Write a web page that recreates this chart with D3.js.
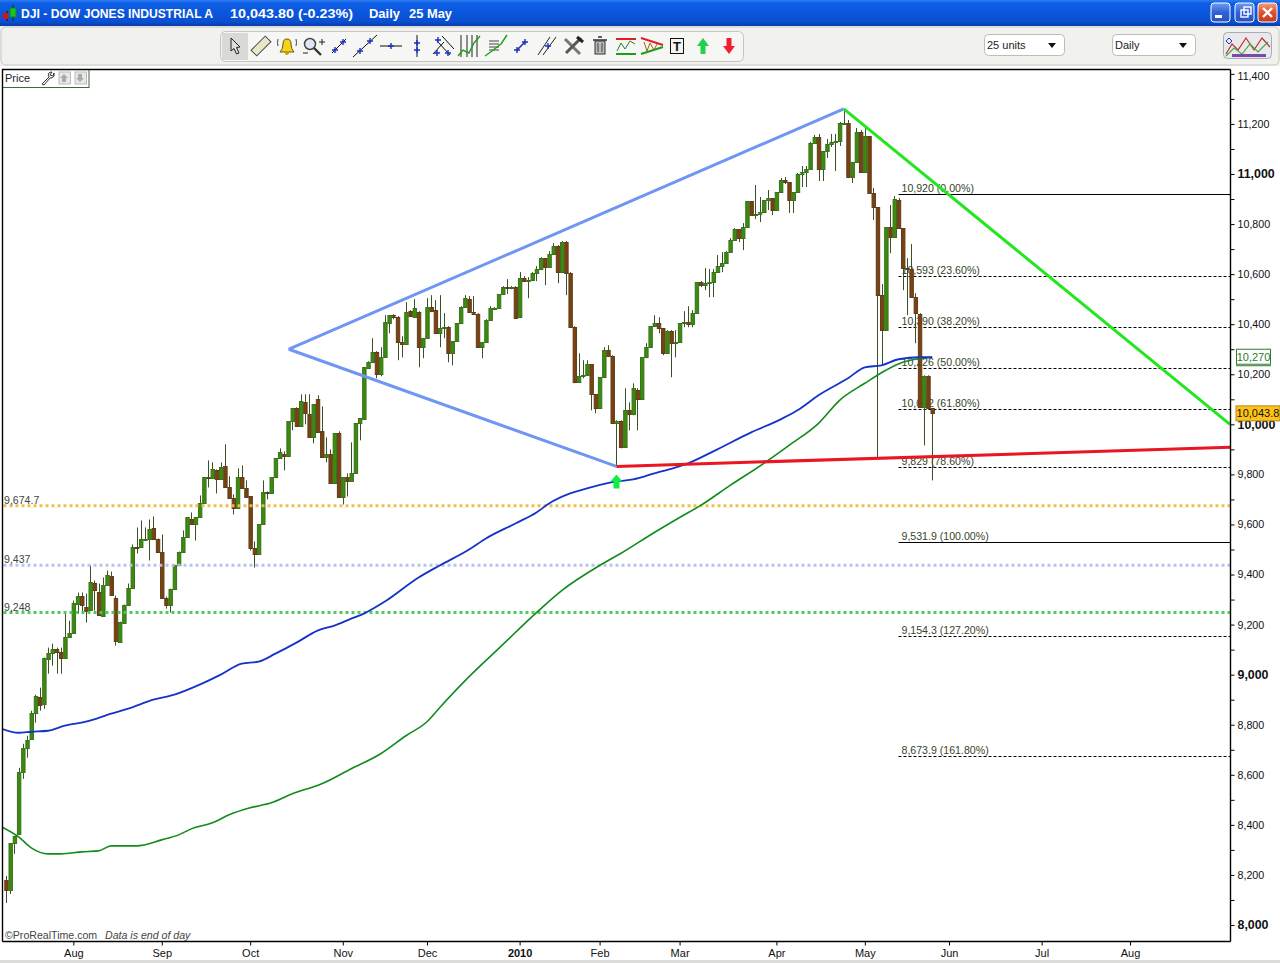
<!DOCTYPE html>
<html>
<head>
<meta charset="utf-8">
<script src="https://cdn.jsdelivr.net/npm/d3@7/dist/d3.min.js"></script>
<style>
html,body{margin:0;padding:0;background:#fff;overflow:hidden}
svg{display:block}
text{font-family:"Liberation Sans",Arial,sans-serif}
</style>
</head>
<body>
<div id="chart"></div>
<script>
// ---- DATA ----
const opens=[
8180,8140,8328,8364,8612,8708,8744,8848,8912,8884,
9064,9088,9104,9092,9068,9152,9168,9284,9316,9272,
9260,9368,9332,9236,9360,9396,9308,9132,9208,9280,
9348,9508,9508,9540,9540,9584,9540,9492,9308,9280,
9344,9440,9492,9548,9620,9600,9628,9684,9788,9784,
9816,9780,9832,9748,9704,9664,9788,9744,9712,9504,
9484,9600,9728,9724,9788,9864,9880,9872,10012,10064,
9992,10088,10040,9948,10100,9972,9868,9880,9764,9964,
9708,9788,9772,9804,10004,10020,10224,10248,10288,10200,
10268,10404,10436,10428,10328,10320,10452,10428,10448,10308,
10344,10468,10456,10364,10384,10388,10284,10332,10404,10468,
10500,10448,10440,10308,10328,10416,10464,10464,10520,10548,
10544,10548,10428,10584,10572,10576,10604,10620,10664,10628,
10680,10712,10608,10728,10604,10388,10168,10192,10196,10240,
10120,10064,10188,10296,10272,10004,10012,9908,10056,10040,
10136,10100,10268,10308,10392,10404,10384,10284,10372,10324,
10328,10404,10408,10400,10444,10568,10556,10564,10568,10608,
10632,10644,10688,10736,10780,10744,10788,10892,10836,10840,
10848,10896,10904,10856,10928,10976,10968,10896,10928,11000,
11008,11020,11124,11148,11020,11092,11120,11128,11132,11204,
11204,10988,11048,11168,11008,11152,10924,10868,10516,10376,
10788,10748,10896,10784,10624,10620,10508,10440,10068,10192,
10064];
const highs=[
8196,8328,8356,8628,8724,8756,8856,8920,8948,9068,
9108,9124,9108,9108,9244,9216,9296,9328,9328,9324,
9436,9376,9364,9388,9416,9412,9316,9212,9280,9364,
9520,9588,9616,9588,9620,9632,9544,9560,9312,9344,
9440,9492,9576,9628,9648,9628,9716,9788,9856,9848,
9820,9848,9920,9792,9720,9824,9836,9776,9712,9532,
9600,9776,9732,9788,9864,9904,9892,10012,10064,10068,
10120,10120,10120,10080,10116,10072,9948,9900,9964,9972,
9788,9804,9928,10004,10024,10228,10252,10344,10292,10308,
10436,10436,10440,10432,10352,10488,10456,10500,10452,10344,
10504,10516,10496,10516,10444,10392,10332,10404,10472,10516,
10512,10512,10444,10328,10420,10472,10468,10520,10552,10580,
10552,10552,10608,10592,10588,10608,10632,10668,10664,10692,
10724,10716,10732,10732,10608,10392,10284,10256,10256,10240,
10120,10188,10308,10316,10276,10016,10016,10144,10088,10164,
10144,10268,10324,10392,10436,10428,10384,10376,10376,10376,
10404,10452,10472,10456,10568,10572,10624,10620,10620,10676,
10688,10692,10744,10784,10780,10804,10892,10892,10956,10908,
10896,10936,10904,10928,10984,10988,10968,10928,11004,11032,
11032,11128,11156,11160,11092,11140,11160,11160,11208,11260,
11216,11048,11184,11176,11184,11152,10944,10868,10560,10788,
10876,10912,10904,10784,10664,10720,10524,10444,10196,10196,
10064];
const lows=[
8088,8124,8284,8364,8584,8668,8744,8808,8856,8864,
9004,9036,9004,9004,9068,9152,9168,9244,9244,9208,
9256,9256,9240,9232,9360,9320,9116,9132,9208,9280,
9348,9484,9508,9536,9456,9540,9488,9308,9264,9248,
9344,9440,9492,9548,9600,9536,9628,9684,9748,9784,
9724,9780,9748,9704,9640,9664,9744,9708,9496,9428,
9480,9600,9700,9724,9788,9864,9816,9872,9976,9992,
9992,10000,9948,9924,9968,9868,9848,9764,9764,9708,
9680,9712,9772,9804,9936,10020,10224,10248,10184,10192,
10268,10364,10420,10256,10268,10320,10432,10428,10228,10264,
10344,10448,10364,10308,10344,10248,10236,10332,10404,10468,
10448,10440,10308,10264,10328,10416,10460,10464,10520,10520,
10540,10424,10428,10568,10504,10576,10572,10616,10556,10628,
10680,10564,10608,10516,10388,10164,10168,10184,10196,10056,
10044,10064,10188,10272,10004,9832,9904,9908,9976,10036,
9976,10100,10264,10308,10392,10364,10276,10284,10188,10268,
10328,10388,10388,10388,10444,10548,10536,10508,10508,10608,
10608,10644,10688,10736,10728,10696,10788,10836,10820,10808,
10848,10856,10836,10856,10928,10960,10844,10844,10928,10948,
10948,11020,11124,10972,10972,11064,11108,11012,11112,11196,
10988,10964,11048,11008,11008,10924,10816,9864,10236,10376,
10684,10748,10784,10536,10436,10508,10324,10068,9916,10060,
9776];
const closes=[
8140,8328,8356,8612,8708,8740,8848,8916,8880,9068,
9088,9104,9092,9068,9152,9168,9288,9316,9280,9256,
9372,9340,9240,9360,9400,9320,9136,9212,9280,9348,
9508,9504,9540,9540,9580,9540,9492,9308,9280,9344,
9440,9492,9548,9628,9600,9628,9684,9788,9784,9820,
9780,9828,9748,9704,9664,9788,9744,9708,9504,9484,
9600,9728,9724,9788,9864,9888,9872,10012,10064,9992,
10092,10044,9948,10080,9968,9868,9880,9764,9964,9708,
9788,9772,9804,10004,10024,10228,10248,10288,10200,10268,
10408,10436,10428,10328,10320,10448,10432,10464,10308,10344,
10468,10452,10364,10384,10388,10284,10332,10404,10468,10504,
10448,10440,10308,10328,10416,10464,10464,10520,10548,10544,
10548,10424,10584,10572,10576,10604,10620,10664,10628,10680,
10712,10608,10728,10604,10388,10168,10192,10196,10240,10120,
10064,10188,10296,10272,10004,10012,9908,10056,10040,10144,
10100,10268,10308,10392,10404,10384,10284,10372,10324,10328,
10404,10408,10400,10444,10568,10556,10564,10568,10608,10632,
10644,10688,10736,10780,10744,10788,10892,10836,10840,10848,
10896,10904,10856,10928,10976,10968,10896,10928,11000,11008,
11020,11124,11148,11020,11092,11120,11128,11132,11204,11204,
10988,11048,11168,11008,11152,10924,10868,10516,10376,10788,
10748,10900,10784,10624,10620,10508,10444,10068,10192,10064,
10044];

const blueMaIdx=[-1,3,6,10,14,19,25,29,35,40,46,51,56,60,64,69,74,78,82,85,90,98,103,110,114,121,126,129,134,138,145,149,154,162,168,177,184,188,193,200,204,208,212,217,220];
const blueMaVal=[8784,8768,8772,8776,8796,8812,8844,8864,8900,8920,8960,9000,9044,9052,9084,9128,9176,9196,9224,9244,9292,9388,9436,9500,9544,9604,9648,9684,9724,9744,9772,9780,9804,9844,9892,9968,10020,10056,10116,10184,10228,10236,10260,10268,10268];
const greenMaIdx=[-1,3,6,10,13,18,22,25,31,37,41,44,49,53,58,63,68,75,82,89,95,100,103,110,117,126,132,141,146,154,160,165,172,180,186,193,198,204,209,213,220];
const greenMaVal=[8392,8352,8308,8284,8284,8292,8296,8316,8316,8340,8360,8384,8408,8440,8468,8488,8524,8564,8624,8684,8756,8812,8868,8992,9104,9248,9336,9436,9484,9568,9628,9676,9756,9844,9916,10004,10096,10164,10216,10248,10268];

const monthIdx=[16,37,58,80,100,122,141,160,183,204,224,246,267];
const monthLabels=["Aug","Sep","Oct","Nov","Dec","2010","Feb","Mar","Apr","May","Jun","Jul","Aug"];

const priceTicks=d3.range(8000,11401,100);
const levelValues=[9674.7,9437,9248];
const levelLabels=["9,674.7","9,437","9,248"];
const levelColors=["#f0bd45","#b4c4ea","#47c957"];

const fibValues=[10920,10593,10390,10226,10062,9829,9531.9,9154.3,8673.9];
const fibLabels=["10,920 (0.00%)","10,593 (23.60%)","10,390 (38.20%)","10,226 (50.00%)","10,062 (61.80%)","9,829 (78.60%)","9,531.9 (100.00%)","9,154.3 (127.20%)","8,673.9 (161.80%)"];
const fibSolid=[true,false,false,false,false,false,true,false,false];
const fibStartIdx=212;

const wedgeIdx=[145,67.2,199];
const wedgeVal=[9832,10300,11260];
const downIdx=[199,290.74];
const downVal=[11260,10000];
const supportIdx=[145,290.74];
const supportVal=[9832,9908];
const arrowIdx=145, arrowPrice=9772;
const lastMa=10270, lastClose=10043.8;

// ---- SCALES ----
const W=1280,H=963;
const L=2.5,R=1230.5,T=69.5,B=941.5;
const x=d3.scaleLinear().domain([0,290.74]).range([6,1230]);
const y=d3.scaleLinear().domain([8000,11000]).range([925,174]);

const svg=d3.select("#chart").append("svg").attr("width",W).attr("height",H);
const defs=svg.append("defs");
function grad(id,stops){
  const g=defs.append("linearGradient").attr("id",id).attr("x1",0).attr("y1",0).attr("x2",0).attr("y2",1);
  stops.forEach(s=>g.append("stop").attr("offset",s[0]).attr("stop-color",s[1]));
}
grad("tb",[[0,"#2c7cf2"],[0.12,"#0e5fe6"],[0.5,"#0a56dc"],[0.85,"#0a4fd0"],[1,"#0a3aa8"]]);
grad("wb",[[0,"#6f9cf0"],[0.5,"#2f62d6"],[1,"#2a52c0"]]);
grad("wc",[[0,"#f0a080"],[0.5,"#e0502c"],[1,"#c03c20"]]);
defs.append("clipPath").attr("id","plot").append("rect").attr("x",L).attr("y",T).attr("width",R-L).attr("height",B-T);

// ---- WINDOW CHROME ----
svg.append("rect").attr("width",W).attr("height",H).attr("fill","#fff");
svg.append("rect").attr("x",0).attr("y",26).attr("width",W).attr("height",40).attr("fill","#efefeb");
svg.append("rect").attr("x",1).attr("y",27).attr("width",W-2).attr("height",38).attr("rx",5).attr("fill","#f1f1ee").attr("stroke","#c9c9c5");
svg.append("rect").attr("x",0).attr("y",0).attr("width",W).attr("height",26).attr("fill","url(#tb)");
svg.append("rect").attr("x",0).attr("y",960).attr("width",W).attr("height",3).attr("fill","#dcdcd8");

const logo=svg.append("g");
logo.append("line").attr("x1",7).attr("x2",7).attr("y1",11).attr("y2",21).attr("stroke","#300");
logo.append("rect").attr("x",3).attr("y",13).attr("width",5).attr("height",6).attr("fill","#e01010");
logo.append("line").attr("x1",13).attr("x2",13).attr("y1",5).attr("y2",21).attr("stroke","#030");
logo.append("rect").attr("x",10).attr("y",8).attr("width",6).attr("height",9).attr("fill","#20c020").attr("stroke","#083");

const titleG=svg.append("g").attr("font-weight","bold").attr("font-size",13).attr("fill","#fff");
[["DJI - DOW JONES INDUSTRIAL A",21,192],["10,043.80 (-0.23%)",230,123],["Daily",369,31],["25 May",409,43]].forEach(t=>{
  titleG.append("text").attr("x",t[1]).attr("y",18).attr("textLength",t[2]).attr("lengthAdjust","spacingAndGlyphs").text(t[0]);
});

// window buttons
[[1211,"wb"],[1235,"wb"],[1258,"wc"]].forEach(b=>{
  svg.append("rect").attr("x",b[0]).attr("y",3).attr("width",19).attr("height",19).attr("rx",3).attr("fill",`url(#${b[1]})`).attr("stroke","#fff");
});
svg.append("rect").attr("x",1215).attr("y",15).attr("width",7).attr("height",3).attr("fill","#fff");
svg.append("rect").attr("x",1241).attr("y",10).attr("width",7).attr("height",7).attr("fill","none").attr("stroke","#fff").attr("stroke-width",1.4);
svg.append("rect").attr("x",1244).attr("y",7).attr("width",7).attr("height",7).attr("fill","none").attr("stroke","#fff").attr("stroke-width",1.4);
svg.append("path").attr("d","M1263,8 L1272,17 M1272,8 L1263,17").attr("stroke","#fff").attr("stroke-width",2.4);

// toolbar
svg.append("rect").attr("x",220.5).attr("y",31.5).attr("width",523).attr("height",30).attr("rx",5).attr("fill","#f6f6f4").attr("stroke","#c4c4c0");
svg.append("rect").attr("x",222).attr("y",33).attr("width",26).attr("height",27).attr("fill","#d9d9d7");
const blue="#1a2fbe";
function icon(cx){return svg.append("g").attr("transform",`translate(${cx},46)`);}
function cross(g,a,b){g.append("path").attr("d",`M${a-3},${b} h6 M${a},${b-3} v6`).attr("stroke",blue).attr("stroke-width",1.4);}
function ln(g,d,c,w){g.append("path").attr("d",d).attr("stroke",c||"#111").attr("stroke-width",w||1).attr("fill","none");}
icon(235).append("path").attr("d","M-4,-8 L-4,5 L-1,2.5 L1.5,8 L4,7 L1.5,1.5 L5,1 Z").attr("fill","#ddd").attr("stroke","#222");
let g=icon(261); g.append("rect").attr("x",-10).attr("y",-4).attr("width",20).attr("height",8).attr("fill","#ece6c8").attr("stroke","#444").attr("transform","rotate(-45)");
g=icon(287); g.append("path").attr("d","M-7,6 Q-4,3 -4,-2 Q-4,-7 0,-7 Q4,-7 4,-2 Q4,3 7,6 Z").attr("fill","#f2d21c").attr("stroke","#6a5a00");
g.append("circle").attr("cy",7).attr("r",2).attr("fill","#c8a000"); ln(g,"M-9,-7 Q-10,-3 -9,0 M9,-7 Q10,-3 9,0","#444");
g=icon(313); g.append("circle").attr("cx",-3).attr("cy",-2).attr("r",5.5).attr("fill","#dfe7f4").attr("stroke","#444").attr("stroke-width",1.5);
ln(g,"M1,2 L8,9","#333",2.4); ln(g,"M6,-4 h6 M9,-7 v6 M-10,7 h5","#222");
g=icon(339); ln(g,"M-7,7 L7,-7"); cross(g,-4,4); cross(g,4,-4);
g=icon(365); ln(g,"M-12,11 L12,-11"); cross(g,-5,5); cross(g,5,-5);
g=icon(391); ln(g,"M-11,0 H11"); cross(g,0,0);
g=icon(417); ln(g,"M0,-11 V11"); cross(g,0,-3); cross(g,0,4);
g=icon(443); ln(g,"M-6,-5 L7,9 M-1,-10 L11,3 M-10,8 L1,-4"); cross(g,-5,-6); cross(g,-6,7); cross(g,5,7);
g=icon(469); ln(g,"M-8,-11 V11 M-2,-11 V11 M3,-11 V11 M8,-11 V11","#222"); ln(g,"M-11,10 L-6,4 L0,7 L5,-3 L11,-10","#19a019",1.4);
g=icon(495); ln(g,"M-6,-5 h10 M-6,-2 h10 M-6,1 h10 M-6,4 h10","#444"); ln(g,"M-10,10 L-3,5 L6,-2 L12,-11","#19a019",1.4);
g=icon(521); cross(g,-4,4); cross(g,4,-4); ln(g,"M-4,4 L4,-4",blue,1.6);
g=icon(547); ln(g,"M-9,9 L3,-9 M-4,9 L9,-9","#222"); cross(g,1,0);
g=icon(573); ln(g,"M-8,-7 L7,8","#777",3); ln(g,"M8,-8 L-7,7","#555",3); ln(g,"M4,-9 L10,-4","#222",3);
g=icon(600); g.append("rect").attr("x",-5).attr("y",-5).attr("width",10).attr("height",13).attr("fill","#b8b8b8").attr("stroke","#333");
ln(g,"M-7,-6 H7 M-2,-9 H2","#333",1.6); ln(g,"M-2,-3 V6 M2,-3 V6","#444");
g=icon(626); ln(g,"M-10,-7 H10","#e02020",2); ln(g,"M-10,8 H10","#18a018",2); ln(g,"M-9,5 L-5,-3 L-1,3 L4,-5 L9,-2","#208020");
g=icon(652); ln(g,"M-11,-8 L11,-1","#e02020",2); ln(g,"M-11,8 L11,1","#18a018",2); ln(g,"M-8,-4 L-5,5 L-2,-3 L2,4 L5,-2","#a06020");
g=icon(677); g.append("rect").attr("x",-6.5).attr("y",-7.5).attr("width",13).attr("height",15).attr("fill","#f4f4f2").attr("stroke","#111");
g.append("text").attr("text-anchor","middle").attr("y",5).attr("font-size",13).attr("font-weight","bold").attr("fill","#111").attr("font-family","Liberation Serif").text("T");
g=icon(703); g.append("path").attr("d","M0,-8 L6,0 H2.5 V8 H-2.5 V0 H-6 Z").attr("fill","#22d04a");
g=icon(729); g.append("path").attr("d","M0,8 L6,0 H2.5 V-8 H-2.5 V0 H-6 Z").attr("fill","#ee2030");

// dropdowns
[[984,80,"25 units",987,1052],[1112,83,"Daily",1115,1183]].forEach(d=>{
  svg.append("rect").attr("x",d[0]+.5).attr("y",34.5).attr("width",d[1]).attr("height",21).attr("rx",4).attr("fill","#fff").attr("stroke","#bdbdb9");
  svg.append("text").attr("x",d[3]).attr("y",49).attr("font-size",11).attr("fill","#222").text(d[2]);
  svg.append("path").attr("d",`M${d[4]-4},43 h8 l-4,5 z`).attr("fill","#111");
});
svg.append("rect").attr("x",1223.5).attr("y",32.5).attr("width",48).attr("height",26).attr("rx",4).attr("fill","#e9e9ec").attr("stroke","#aab");
ln(svg.append("g"),"M1226,54 L1232,44 L1238,50 L1246,38 L1254,50 L1262,38 L1270,47","#c03030",1.2);
ln(svg.append("g"),"M1226,56 L1234,48 L1242,54 L1250,44 L1258,52 L1268,42","#48a848",1.2);
svg.append("rect").attr("x",1232).attr("y",54).attr("width",34).attr("height",3).attr("fill","#7a4aa8");
svg.append("path").attr("d","M1229,38 l3,3 l-3,3 l-3,-3 z").attr("fill","none").attr("stroke","#2040c0");

// ---- PLOT ----
svg.append("rect").attr("x",L).attr("y",T).attr("width",R-L).attr("height",B-T).attr("fill","#fff");
const plot=svg.append("g").attr("clip-path","url(#plot)");

// Fibonacci levels and labels sit under the candles
const fibRight=x.range()[1];
const fibG=plot.append("g");
fibG.selectAll("line").data(fibValues).join("line")
  .attr("x1",x(fibStartIdx)).attr("x2",fibRight)
  .attr("y1",d=>Math.round(y(d))+.5).attr("y2",d=>Math.round(y(d))+.5)
  .attr("stroke","#000").attr("stroke-width",1)
  .attr("stroke-dasharray",(d,i)=>fibSolid[i]?null:"3 2");
fibG.selectAll("text").data(fibValues).join("text")
  .attr("x",x(fibStartIdx)+3).attr("y",d=>Math.round(y(d))-2)
  .attr("font-size",10.6).attr("fill","#37452a").text((d,i)=>fibLabels[i]);

// candles
const candles=d3.range(opens.length).map(i=>({i,o:opens[i],h:highs[i],l:lows[i],c:closes[i]}));
const cg=plot.append("g");
const cx=d=>Math.round(x(d.i));
cg.selectAll("line").data(candles).join("line")
  .attr("x1",d=>cx(d)+.5).attr("x2",d=>cx(d)+.5)
  .attr("y1",d=>y(Math.max(d.h,d.o,d.c))).attr("y2",d=>y(Math.min(d.l,d.o,d.c)))
  .attr("stroke","#3a5226").attr("stroke-width",1);
cg.selectAll("rect").data(candles).join("rect")
  .attr("x",d=>x(d.i)-1.2).attr("width",3.4)
  .attr("y",d=>Math.round(y(Math.max(d.o,d.c)))+.5)
  .attr("height",d=>Math.max(1,Math.round(y(Math.min(d.o,d.c)))-Math.round(y(Math.max(d.o,d.c)))))
  .attr("fill",d=>d.c>=d.o?"#3a8c0a":"#7f3f10")
  .attr("stroke",d=>d.c>=d.o?"#3a7020":"#5a4018").attr("stroke-width",1);

// dotted support / resistance levels
plot.selectAll(".lvl").data(levelValues).join("line").attr("class","lvl")
  .attr("x1",L+1).attr("x2",R).attr("y1",d=>y(d)).attr("y2",d=>y(d))
  .attr("stroke",(d,i)=>levelColors[i]).attr("stroke-width",3).attr("stroke-dasharray","3 3").attr("opacity",.95);
plot.selectAll(".lvlt").data(levelValues).join("text").attr("class","lvlt")
  .attr("x",4).attr("y",d=>Math.round(y(d))-2).attr("font-size",10.6).attr("fill","#444").text((d,i)=>levelLabels[i]);

// moving averages
const line=d3.line().x(d=>x(d[0])).y(d=>y(d[1]));
const smooth=d3.line().curve(d3.curveMonotoneX).x(d=>x(d[0])).y(d=>y(d[1]));
plot.append("path").attr("d",smooth(greenMaIdx.map((v,i)=>[v,greenMaVal[i]]))).attr("fill","none").attr("stroke","#128a1c").attr("stroke-width",1.6);
plot.append("path").attr("d",smooth(blueMaIdx.map((v,i)=>[v,blueMaVal[i]]))).attr("fill","none").attr("stroke","#1434c8").attr("stroke-width",1.8);

// trend lines
plot.append("path").attr("d",line(wedgeIdx.map((v,i)=>[v,wedgeVal[i]]))).attr("fill","none").attr("stroke","#6f96f2").attr("stroke-width",3).attr("stroke-linejoin","bevel");
plot.append("path").attr("d",line(downIdx.map((v,i)=>[v,downVal[i]]))).attr("fill","none").attr("stroke","#22e61e").attr("stroke-width",3);
plot.append("path").attr("d",line(supportIdx.map((v,i)=>[v,supportVal[i]]))).attr("fill","none").attr("stroke","#ea1622").attr("stroke-width",3);

// buy arrow
plot.append("path").attr("transform",`translate(${x(arrowIdx)},${y(arrowPrice)})`)
  .attr("d","M0,-7 L6,0 H3 V7 H-3 V0 H-6 Z").attr("fill","#10ee46");

// price tab
const tab=svg.append("g");
tab.append("rect").attr("x",L).attr("y",T).attr("width",86.5).attr("height",18).attr("fill","#fff").attr("stroke","#3f6a3f");
tab.append("text").attr("x",5).attr("y",82).attr("font-size",11).attr("fill","#222").text("Price");
tab.append("path").attr("d","M42,84 L49,77 Q47,72 52,72 L50,75 L53,76 L54,73 Q55,78 50,78 L44,85 Z").attr("fill","#fff").attr("stroke","#333");
[[59,"M64,74 l4,4 h-2 v4 h-4 v-4 h-2 z"],[75,"M80,82 l4,-4 h-2 v-4 h-4 v4 h-2 z"]].forEach(b=>{
  tab.append("rect").attr("x",b[0]).attr("y",72).attr("width",11.5).attr("height",12).attr("fill","#e8e8e8").attr("stroke","#bbb");
  tab.append("path").attr("d",b[1]).attr("fill","#aaa");
});

// footer note
svg.append("text").attr("x",5).attr("y",939).attr("font-size",10.6).attr("fill","#444").text("©ProRealTime.com");
svg.append("text").attr("x",105).attr("y",939).attr("font-size",10.6).attr("font-style","italic").attr("fill","#444").text("Data is end of day");

// frame
svg.append("path").attr("d",`M${L},${B} V${T} H${R}`).attr("fill","none").attr("stroke","#000").attr("stroke-width",1.4);

// axes
const yAxis=d3.axisRight(y).tickValues(priceTicks).tickSize(4).tickPadding(3)
  .tickFormat(d=>d%200===0?d3.format(",")(d):"");
const ya=svg.append("g").attr("transform",`translate(${R},0)`).call(yAxis);
ya.select(".domain").attr("d",`M0,${T} V${B}`).attr("stroke-width",1.4).attr("stroke","#000");
ya.selectAll("text").attr("font-family","Liberation Sans").attr("font-size",d=>d%1000===0?12.4:10.7)
  .attr("font-weight",d=>d%1000===0?"bold":"normal").attr("fill","#111")
  .attr("dy",d=>d===11400?"0.52em":"0.32em");
ya.selectAll("line").attr("stroke","#000");

const xAxis=d3.axisBottom(x).tickValues(monthIdx).tickSize(4).tickPadding(4)
  .tickFormat(d=>monthLabels[monthIdx.indexOf(d)]);
const xa=svg.append("g").attr("transform",`translate(0,${B})`).call(xAxis);
xa.select(".domain").attr("d",`M${L},0 H${R}`).attr("stroke-width",1.4).attr("stroke","#000");
xa.selectAll("text").attr("font-family","Liberation Sans").attr("font-size",11).attr("fill","#111")
  .attr("font-weight",d=>monthLabels[monthIdx.indexOf(d)]==="2010"?"bold":"normal");
xa.selectAll("line").attr("stroke","#000");

// last-value tags
const ma=svg.append("g");
ma.append("rect").attr("x",1236.5).attr("y",y(lastMa)-7.5).attr("width",34).attr("height",15).attr("fill","#fff").attr("stroke","#2f7a2f");
ma.append("line").attr("x1",1236).attr("x2",1271).attr("y1",y(lastMa)+9).attr("y2",y(lastMa)+9).attr("stroke","#2f7a2f");
ma.append("text").attr("x",1253.5).attr("y",y(lastMa)+4).attr("text-anchor","middle").attr("font-size",11).attr("fill","#2f7a2f").text("10,270");
const lc=svg.append("g");
lc.append("rect").attr("x",1236).attr("y",y(lastClose)-7.5).attr("width",44).attr("height",15).attr("fill","#ffc21a").attr("stroke","#b88a10");
lc.append("text").attr("x",1258).attr("y",y(lastClose)+4).attr("text-anchor","middle").attr("font-size",11).attr("fill","#111").text("10,043.8");
</script>
</body>
</html>
